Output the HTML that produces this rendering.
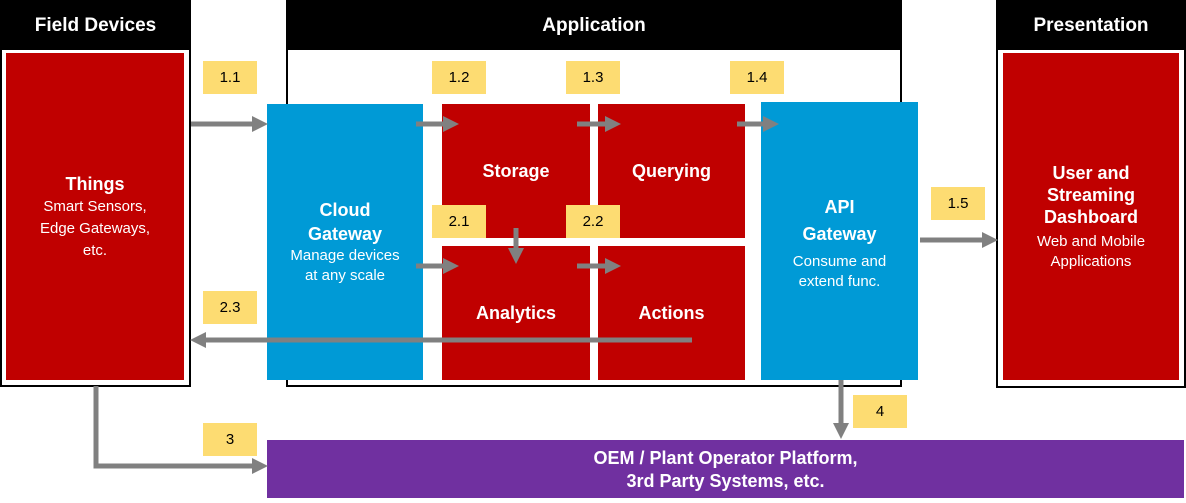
<!DOCTYPE html>
<html><head><meta charset="utf-8"><style>
body{margin:0;width:1186px;height:503px;background:#fff;position:relative;overflow:hidden;font-family:"Liberation Sans",Arial,sans-serif}
.a{position:absolute;box-sizing:border-box}
.frame{border:2px solid #000}
.hdr{background:#000;color:#fff;font-weight:bold;font-size:19px;text-align:center;line-height:52px}
.red{background:#c00000;color:#fff;display:flex;flex-direction:column;align-items:center;justify-content:center;text-align:center}
.blue{background:#009ad6;color:#fff;display:flex;flex-direction:column;align-items:center;justify-content:center;text-align:center}
.b{font-weight:bold;font-size:18px;line-height:24px}
.s{font-size:15px;line-height:22px}
.y{background:#fddc72;color:#000;font-size:15px;text-align:center;line-height:34px;width:54px;height:33px}
</style></head><body>
<div class="a frame" style="left:0;top:0;width:191px;height:387px"></div>
<div class="a hdr" style="left:0;top:0;width:191px;height:50px">Field Devices</div>
<div class="a red" style="left:6px;top:53px;width:178px;height:327px"><div class="b">Things</div><div class="s">Smart Sensors,<br>Edge Gateways,<br>etc.</div></div>

<div class="a frame" style="left:286px;top:0;width:616px;height:387px"></div>
<div class="a hdr" style="left:286px;top:0;width:616px;height:50px">Application</div>

<div class="a frame" style="left:996px;top:0;width:190px;height:388px"></div>
<div class="a hdr" style="left:996px;top:0;width:190px;height:50px">Presentation</div>
<div class="a red" style="left:1003px;top:53px;width:176px;height:327px"><div class="b" style="line-height:22px">User and<br>Streaming<br>Dashboard</div><div class="s" style="line-height:20px;margin-top:4px">Web and Mobile<br>Applications</div></div>

<div class="a blue" style="left:267px;top:104px;width:156px;height:276px"><div class="b">Cloud<br>Gateway</div><div class="s" style="line-height:20px">Manage devices<br>at any scale</div></div>
<div class="a red" style="left:442px;top:104px;width:148px;height:134px"><div class="b">Storage</div></div>
<div class="a red" style="left:598px;top:104px;width:147px;height:134px"><div class="b">Querying</div></div>
<div class="a red" style="left:442px;top:246px;width:148px;height:134px"><div class="b">Analytics</div></div>
<div class="a red" style="left:598px;top:246px;width:147px;height:134px"><div class="b">Actions</div></div>
<div class="a blue" style="left:761px;top:102px;width:157px;height:278px;justify-content:flex-start;padding-top:92px"><div class="b" style="line-height:27px">API<br>Gateway</div><div class="s" style="line-height:20px;margin-top:4px">Consume and<br>extend func.</div></div>

<div class="a" style="left:267px;top:440px;width:917px;height:58px;background:#7030a0;color:#fff;font-weight:bold;font-size:18px;text-align:center;line-height:23px;padding-top:7px">OEM / Plant Operator Platform,<br>3rd Party Systems, etc.</div>

<svg class="a" style="left:0;top:0" width="1186" height="503">
<g stroke="#808080" stroke-width="5" fill="none">
<line x1="191" y1="124" x2="255" y2="124"/>
<line x1="416" y1="124" x2="446" y2="124"/>
<line x1="577" y1="124" x2="608" y2="124"/>
<line x1="737" y1="124" x2="766" y2="124"/>
<line x1="920" y1="240" x2="985" y2="240"/>
<line x1="416" y1="266" x2="446" y2="266"/>
<line x1="577" y1="266" x2="608" y2="266"/>
<line x1="516" y1="228" x2="516" y2="252"/>
<line x1="692" y1="340" x2="202" y2="340"/>
<line x1="841" y1="380" x2="841" y2="426"/>
<polyline points="96,386 96,466 255,466"/>
</g>
<g fill="#808080">
<polygon points="252,116 268,124 252,132"/>
<polygon points="443,116 459,124 443,132"/>
<polygon points="605,116 621,124 605,132"/>
<polygon points="763,116 779,124 763,132"/>
<polygon points="982,232 998,240 982,248"/>
<polygon points="443,258 459,266 443,274"/>
<polygon points="605,258 621,266 605,274"/>
<polygon points="508,248 516,264 524,248"/>
<polygon points="206,332 190,340 206,348"/>
<polygon points="833,423 841,439 849,423"/>
<polygon points="252,458 268,466 252,474"/>
</g>
</svg>

<div class="a y" style="left:203px;top:61px">1.1</div>
<div class="a y" style="left:432px;top:61px">1.2</div>
<div class="a y" style="left:566px;top:61px">1.3</div>
<div class="a y" style="left:730px;top:61px">1.4</div>
<div class="a y" style="left:931px;top:187px">1.5</div>
<div class="a y" style="left:432px;top:205px">2.1</div>
<div class="a y" style="left:566px;top:205px">2.2</div>
<div class="a y" style="left:203px;top:291px">2.3</div>
<div class="a y" style="left:203px;top:423px">3</div>
<div class="a y" style="left:853px;top:395px">4</div>
</body></html>
